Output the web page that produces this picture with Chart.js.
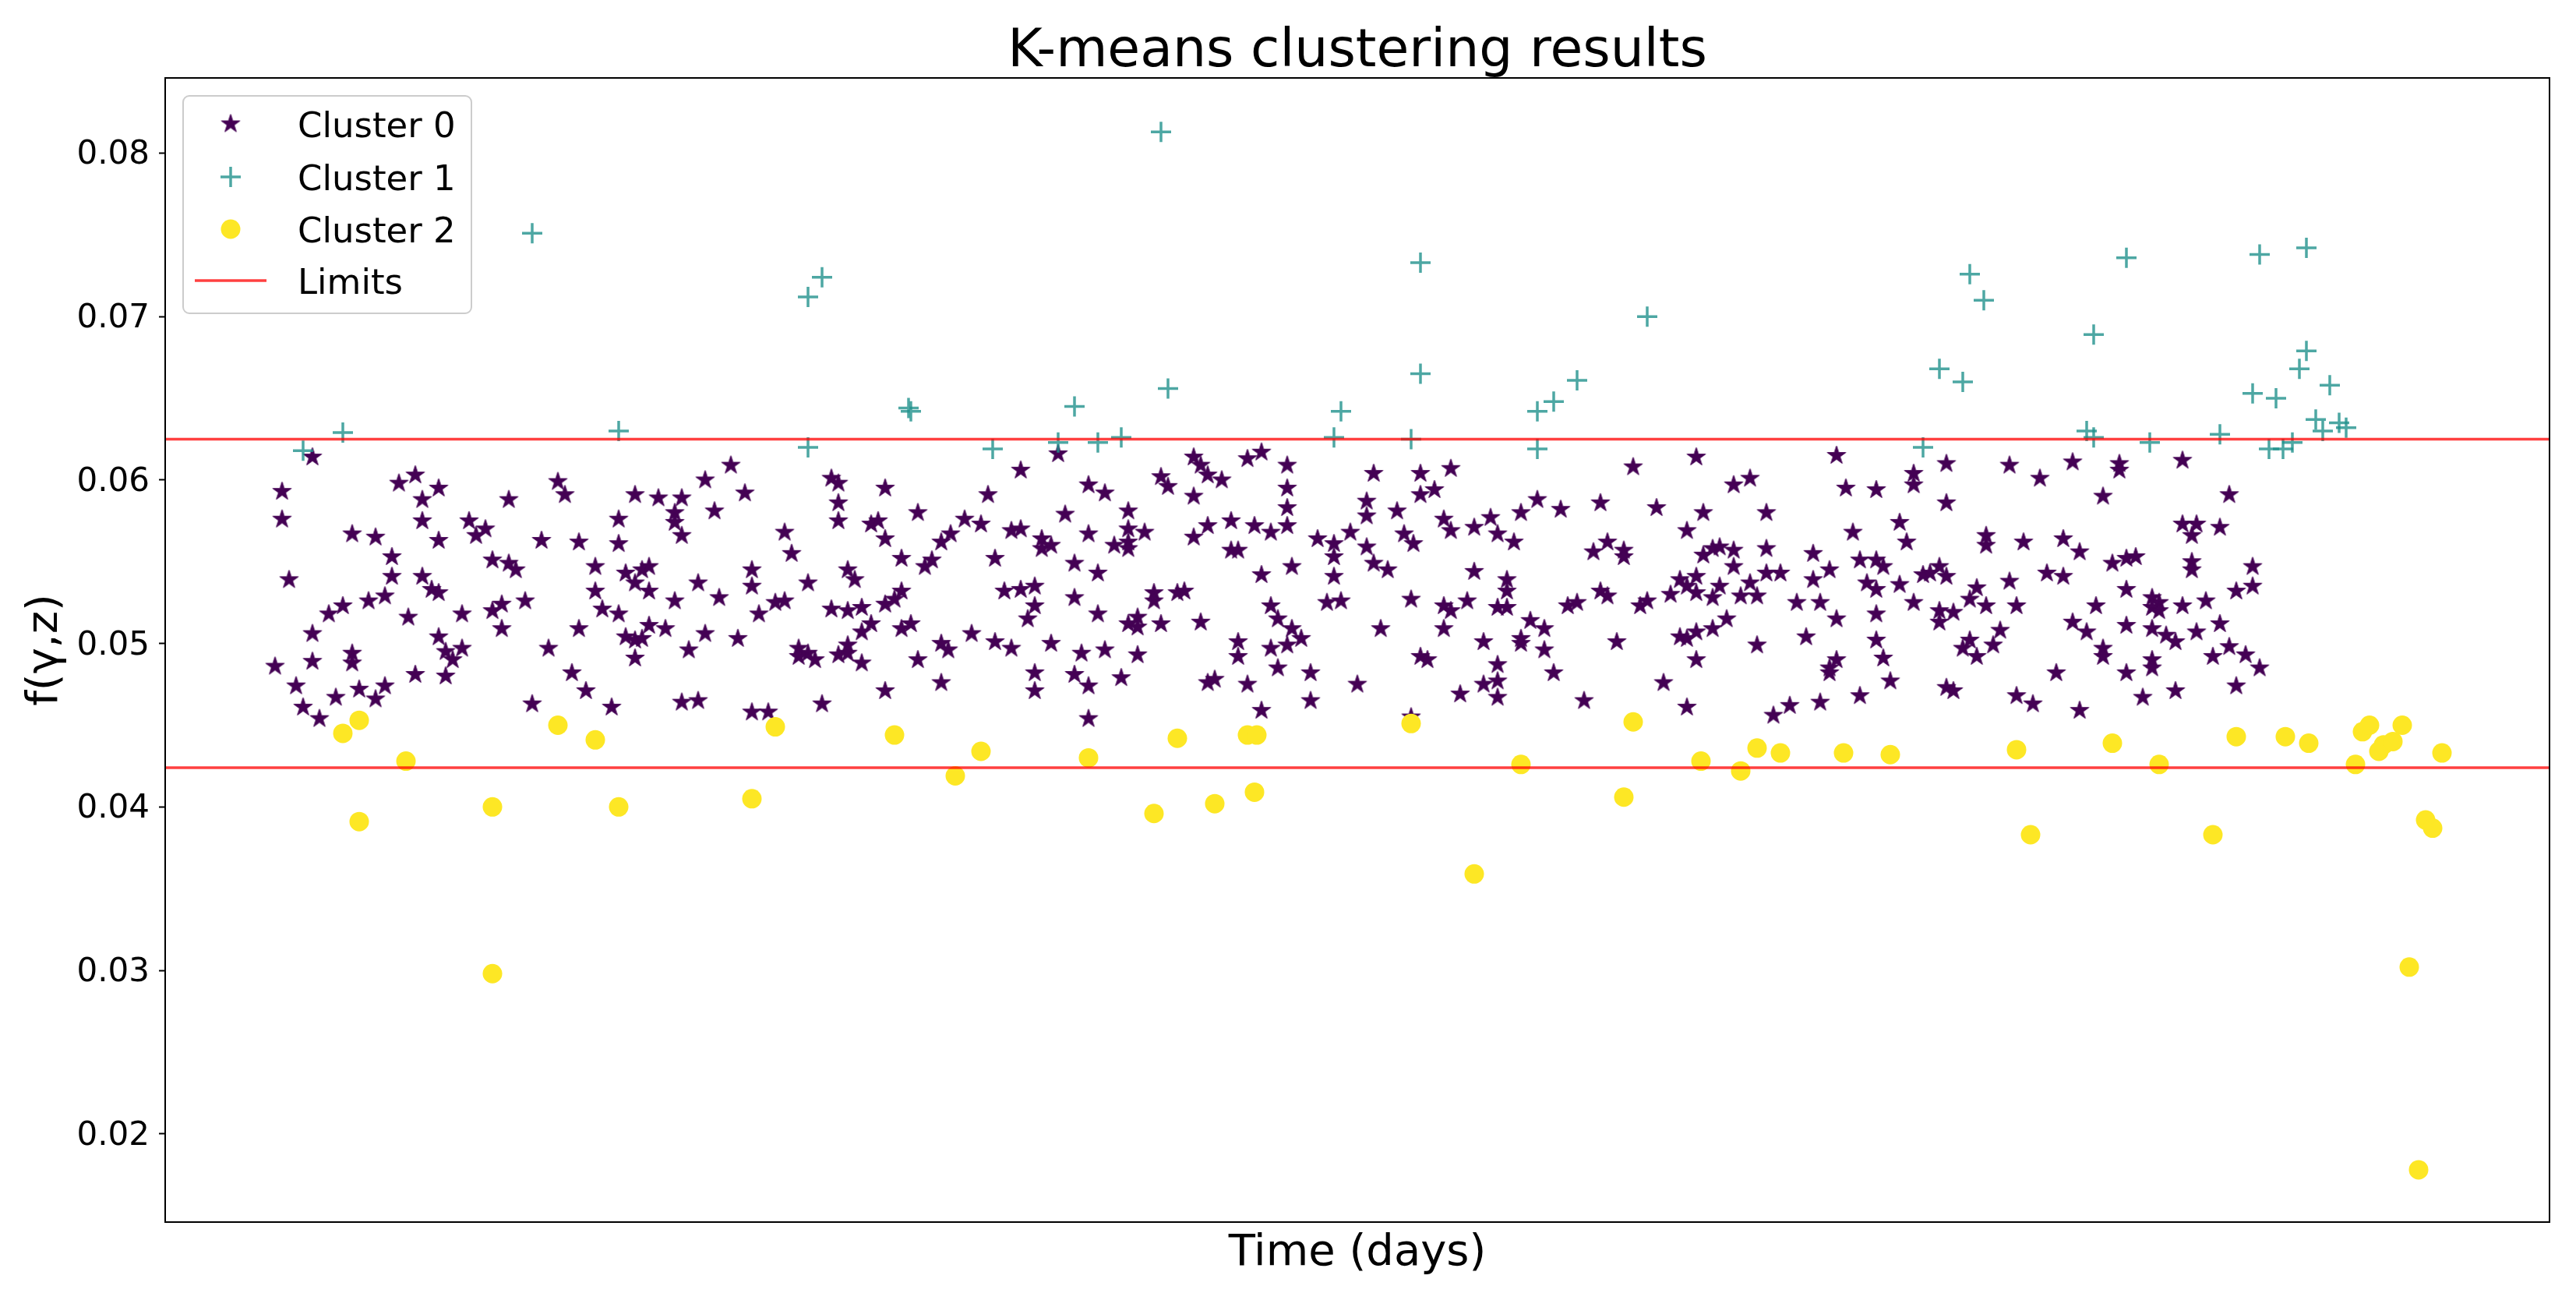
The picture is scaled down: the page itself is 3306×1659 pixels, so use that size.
<!DOCTYPE html>
<html>
<head>
<meta charset="utf-8">
<title>K-means clustering results</title>
<script src="https://cdn.jsdelivr.net/npm/chart.js@4.4.0/dist/chart.umd.min.js"></script>
<style>
    html, body { margin: 0; padding: 0; background: #ffffff; }
    canvas { display: block; }
</style>
</head>
<body>
<canvas id="kmeansChart" width="3306" height="1659"></canvas>
<script>
// ===============================
// Data: [day, f(γ,z)] for every point, one list per cluster
// ===============================
var cluster0 = [
    [63,0.0614],[50,0.0593],[50,0.0576],[53,0.0539],[47,0.0486],[56,0.0474],[59,0.0461],[66,0.0454],[63,0.0506],[63,0.0489],
    [70,0.0518],[76,0.0523],[73,0.0467],[80,0.0567],[80,0.0494],[80,0.0488],[83,0.0472],[90,0.0565],[90,0.0466],[94,0.0474],
    [94,0.0529],[87,0.0526],[97,0.0553],[97,0.0541],[100,0.0598],[107,0.0603],[110,0.0588],[117,0.0595],[110,0.0575],[117,0.0563],
    [104,0.0516],[107,0.0481],[110,0.0541],[114,0.0533],[117,0.0531],[117,0.0504],[120,0.0495],[123,0.0490],[127,0.0497],[120,0.0480],
    [127,0.0518],[130,0.0575],[133,0.0566],[137,0.0570],[140,0.0551],[147,0.0549],[150,0.0545],[140,0.0520],[144,0.0524],[144,0.0509],
    [154,0.0526],[147,0.0588],[168,0.0599],[171,0.0591],[161,0.0563],[177,0.0562],[184,0.0547],[184,0.0532],[187,0.0521],[177,0.0509],
    [164,0.0497],[174,0.0482],[180,0.0471],[157,0.0463],
    [194,0.0518],[191,0.0461],[194,0.0576],[194,0.0561],[201,0.0591],[211,0.0589],[221,0.0589],[218,0.0580],[218,0.0574],[221,0.0566],
    [231,0.0600],[242,0.0609],[248,0.0592],[235,0.0581],[197,0.0543],[204,0.0545],[207,0.0547],[201,0.0537],[207,0.0532],[218,0.0526],
    [228,0.0537],[237,0.0528],[207,0.0511],[214,0.0509],[197,0.0504],[201,0.0502],[204,0.0503],[201,0.0491],[224,0.0496],[231,0.0506],
    [245,0.0503],[221,0.0464],[228,0.0465],[251,0.0458],[258,0.0458],[251,0.0545],[251,0.0535],[254,0.0518],[261,0.0525],[265,0.0526],
    [265,0.0568],[268,0.0555],[275,0.0537],[285,0.0601],[288,0.0598],[288,0.0586],[288,0.0575],[308,0.0595],[322,0.0580],[302,0.0573],
    [305,0.0575],[308,0.0564],[315,0.0552],[325,0.0547],[328,0.0551],[332,0.0562],[336,0.0567],[292,0.0545],[295,0.0539],[285,0.0521],
    [292,0.0520],[298,0.0522],[308,0.0524],[312,0.0527],[315,0.0532],[302,0.0512],[298,0.0507],[315,0.0509],[319,0.0512],[271,0.0497],
    [275,0.0494],[271,0.0492],[278,0.0490],[288,0.0493],[292,0.0499],[292,0.0494],[298,0.0488],[322,0.0490],[332,0.0500],[335,0.0496],
    [332,0.0476],[308,0.0471],[281,0.0463],
    [382,0.0616],[366,0.0606],[352,0.0591],[342,0.0576],[349,0.0573],[362,0.0569],[366,0.0570],[375,0.0564],[375,0.0558],[379,0.0560],
    [385,0.0579],[395,0.0597],[402,0.0592],[395,0.0567],[412,0.0581],[412,0.0570],[419,0.0568],[406,0.0560],[412,0.0562],[412,0.0558],
    [426,0.0602],[429,0.0596],[440,0.0614],[443,0.0609],[446,0.0603],[452,0.0600],[440,0.0590],[463,0.0613],[469,0.0617],[480,0.0609],
    [480,0.0595],[480,0.0583],[480,0.0572],[446,0.0572],[440,0.0565],[456,0.0575],[466,0.0572],[473,0.0568],[456,0.0557],[459,0.0557],
    [469,0.0542],[482,0.0547],[355,0.0552],[389,0.0549],[399,0.0543],[359,0.0532],[366,0.0533],[372,0.0535],[372,0.0523],[369,0.0515],
    [389,0.0528],[399,0.0518],[412,0.0512],[416,0.0516],[416,0.0510],[426,0.0512],[423,0.0531],[423,0.0526],[433,0.0531],[436,0.0532],
    [443,0.0513],[345,0.0506],[355,0.0501],[362,0.0497],[379,0.0500],[392,0.0494],[402,0.0496],[416,0.0493],[372,0.0482],[372,0.0471],
    [389,0.0481],[395,0.0474],[409,0.0479],[446,0.0476],[449,0.0478],[459,0.0501],[459,0.0492],[463,0.0475],[469,0.0459],[473,0.0523],
    [476,0.0515],[482,0.0509],[473,0.0497],[480,0.0499],[476,0.0485],[395,0.0454],
    [517,0.0604],[537,0.0604],[550,0.0607],[537,0.0591],[543,0.0594],[514,0.0587],[514,0.0578],[527,0.0581],[493,0.0564],[500,0.0561],
    [500,0.0553],[507,0.0568],[514,0.0559],[517,0.0549],[523,0.0545],[500,0.0541],[530,0.0567],[534,0.0561],[547,0.0576],[550,0.0569],
    [560,0.0571],[567,0.0577],[570,0.0567],[577,0.0562],[580,0.0580],[587,0.0588],[597,0.0582],[614,0.0586],[628,0.0608],[560,0.0544],
    [574,0.0539],[574,0.0532],[570,0.0522],[574,0.0522],[497,0.0525],[503,0.0526],[533,0.0527],[547,0.0523],[550,0.0520],[557,0.0526],
    [520,0.0509],[547,0.0509],[564,0.0501],[584,0.0514],[580,0.0503],[580,0.0500],[590,0.0509],[590,0.0496],[611,0.0556],[617,0.0562],
    [624,0.0557],[624,0.0553],[600,0.0523],[604,0.0525],[614,0.0532],[617,0.0529],[621,0.0501],[486,0.0503],[490,0.0482],[490,0.0465],
    [510,0.0475],[537,0.0492],[540,0.0490],[554,0.0469],[564,0.0475],[570,0.0487],[570,0.0477],[570,0.0467],[594,0.0482],[607,0.0465],
    [533,0.0455],
    [655,0.0614],[715,0.0615],[671,0.0597],[678,0.0601],[638,0.0583],[658,0.0580],[685,0.0580],[651,0.0569],[658,0.0554],[662,0.0558],
    [665,0.0559],[671,0.0557],[671,0.0547],[685,0.0558],[685,0.0543],[691,0.0543],[678,0.0537],[648,0.0539],[655,0.0541],[651,0.0535],
    [644,0.0530],[655,0.0531],[665,0.0535],[662,0.0528],[674,0.0529],[681,0.0529],[631,0.0523],[634,0.0526],[648,0.0504],[651,0.0503],
    [655,0.0507],[662,0.0509],[668,0.0515],[655,0.0490],[681,0.0499],[641,0.0476],[651,0.0461],[688,0.0456],[695,0.0462],[708,0.0464],
    [698,0.0525],[708,0.0525],[705,0.0555],[705,0.0539],[712,0.0545],[715,0.0515],[702,0.0504],[712,0.0485],[715,0.0490],[712,0.0482],
    [725,0.0468],[719,0.0595],[732,0.0594],[722,0.0568],[725,0.0551],[732,0.0551],[735,0.0547],[728,0.0537],[732,0.0533],[732,0.0518],
    [732,0.0502],[735,0.0491],[738,0.0477],[742,0.0574],[745,0.0562],[748,0.0604],[748,0.0597],[762,0.0610],[762,0.0586],[742,0.0536],
    [748,0.0525],[752,0.0542],[755,0.0543],[759,0.0547],[762,0.0541],[759,0.0520],[759,0.0513],[765,0.0519],[772,0.0527],[775,0.0534],
    [769,0.0497],[772,0.0502],[775,0.0492],[762,0.0473],[765,0.0471],
    [789,0.0609],[802,0.0601],[816,0.0611],[836,0.0610],[836,0.0606],[829,0.0590],[863,0.0612],[883,0.0591],[779,0.0566],[779,0.0560],
    [795,0.0562],[812,0.0564],[819,0.0556],[789,0.0538],[779,0.0523],[792,0.0523],[805,0.0543],[812,0.0541],[833,0.0549],[839,0.0552],
    [843,0.0553],[839,0.0533],[826,0.0523],[850,0.0528],[853,0.0525],[850,0.0522],[853,0.0520],[863,0.0523],[873,0.0526],[863,0.0573],
    [869,0.0573],[867,0.0566],[879,0.0571],[867,0.0550],[867,0.0545],[893,0.0547],[893,0.0535],[886,0.0532],[785,0.0508],[782,0.0499],
    [816,0.0513],[822,0.0507],[829,0.0497],[829,0.0492],[839,0.0511],[850,0.0509],[856,0.0505],[860,0.0501],[869,0.0507],[879,0.0512],
    [883,0.0498],[876,0.0492],[890,0.0493],[896,0.0485],[886,0.0474],[850,0.0490],[850,0.0485],[839,0.0482],[809,0.0482],[792,0.0468],
    [799,0.0463],[819,0.0459],[846,0.0467],[860,0.0471]
];

var cluster1 = [
    [59,0.0618],[76,0.0629],[157,0.0751],[194,0.0630],[275,0.0712],[281,0.0724],[275,0.0620],[318,0.0644],[319,0.0642],[354,0.0619],
    [382,0.0623],[389,0.0645],[399,0.0623],[409,0.0626],[426,0.0813],[429,0.0656],[500,0.0626],[503,0.0642],[533,0.0625],[537,0.0733],
    [537,0.0665],[587,0.0642],[587,0.0619],[594,0.0648],[604,0.0661],[634,0.0700],[752,0.0620],[759,0.0668],[769,0.0660],[772,0.0726],
    [778,0.0710],[822,0.0630],[825,0.0626],[825,0.0689],[839,0.0736],[849,0.0623],[879,0.0628],[893,0.0653],[896,0.0738],[900,0.0619],
    [903,0.0650],[906,0.0619],[910,0.0623],[913,0.0668],[916,0.0679],[916,0.0742],[920,0.0637],[923,0.0630],[926,0.0658],[930,0.0635],
    [933,0.0632]
];

var cluster2 = [
    [76,0.0445],[83,0.0453],[103,0.0428],[83,0.0391],[140,0.0400],[140,0.0298],[168,0.0450],[184,0.0441],[194,0.0400],[251,0.0405],
    [261,0.0449],[312,0.0444],[338,0.0419],[349,0.0434],[395,0.0430],[423,0.0396],[433,0.0442],[449,0.0402],[463,0.0444],[467,0.0444],
    [466,0.0409],[533,0.0451],[560,0.0359],[580,0.0426],[624,0.0406],[628,0.0452],[657,0.0428],[674,0.0422],[681,0.0436],[691,0.0433],
    [718,0.0433],[738,0.0432],[792,0.0435],[798,0.0383],[833,0.0439],[853,0.0426],[876,0.0383],[886,0.0443],[907,0.0443],[917,0.0439],
    [937,0.0426],[940,0.0446],[943,0.0450],[947,0.0434],[949,0.0438],[953,0.0440],[957,0.0450],[960,0.0302],[964,0.0178],[967,0.0392],
    [970,0.0387],[974,0.0433]
];

// Upper and lower control limits
var limitValues = [0.0625, 0.0424];

// Axis ranges and tick labels
var xRange = [0, 1020];
var yRange = [0.0146, 0.0846];
var yTickValues = [0.02, 0.03, 0.04, 0.05, 0.06, 0.07, 0.08];

var FONT = "'DejaVu Sans', 'Liberation Sans', sans-serif";
var viridis = { purple: "#440154", teal: "rgba(33,145,140,0.8)", yellow: "#fde725" };

// turn [day, value] pairs into chart points
function toPoints(pairs) {
    return pairs.map(function(p) { return { x: p[0], y: p[1] }; });
}

// ===============================
// Filled five point star (matplotlib "*" marker) as a point image
// ===============================
function makeStar(color, r) {
    var size = Math.ceil(r * 2 + 4);
    var c = document.createElement("canvas");
    c.width = size;
    c.height = size;
    var g = c.getContext("2d");
    var cx = size / 2, cy = size / 2;
    g.beginPath();
    for (var i = 0; i < 10; i++) {
        var ang = -Math.PI / 2 + i * Math.PI / 5;
        var rad = (i % 2 === 0) ? r : r * 0.382;
        var px = cx + Math.cos(ang) * rad;
        var py = cy + Math.sin(ang) * rad;
        if (i === 0) g.moveTo(px, py); else g.lineTo(px, py);
    }
    g.closePath();
    g.fillStyle = color;
    g.fill();
    g.lineWidth = 1;
    g.strokeStyle = color;
    g.stroke();
    return c;
}
var starImage = makeStar(viridis.purple, 12.5);

// ===============================
// Plot frame (all four spines)
// ===============================
var framePlugin = {
    id: "frame",
    afterDatasetsDraw: function(chart) {
        var a = chart.chartArea;
        var c = chart.ctx;
        c.save();
        c.strokeStyle = "#000000";
        c.lineWidth = 2;
        c.strokeRect(a.left, a.top, a.right - a.left, a.bottom - a.top);
        c.restore();
    }
};

// ===============================
// Legend box in the upper left corner of the plot
// ===============================
var boxLegendPlugin = {
    id: "boxLegend",
    afterDraw: function(chart) {
        var c = chart.ctx;
        var x = 235, y = 123, w = 370, h = 279, r = 8;
        c.save();
        c.beginPath();
        c.moveTo(x + r, y);
        c.arcTo(x + w, y, x + w, y + h, r);
        c.arcTo(x + w, y + h, x, y + h, r);
        c.arcTo(x, y + h, x, y, r);
        c.arcTo(x, y, x + w, y, r);
        c.closePath();
        c.fillStyle = "rgba(255,255,255,0.8)";
        c.fill();
        c.strokeStyle = "#cccccc";
        c.lineWidth = 2;
        c.stroke();

        var labels = chart.data.datasets.slice(0, 4).map(function(d) { return d.label; });
        var rows = [159, 227, 294, 360];
        var mx = 296;
        // Cluster 0: star
        c.drawImage(starImage, mx - starImage.width / 2, rows[0] - starImage.height / 2);
        // Cluster 1: plus
        c.strokeStyle = viridis.teal;
        c.lineWidth = 3.5;
        c.beginPath();
        c.moveTo(mx - 13, rows[1]); c.lineTo(mx + 13, rows[1]);
        c.moveTo(mx, rows[1] - 13); c.lineTo(mx, rows[1] + 13);
        c.stroke();
        // Cluster 2: circle
        c.fillStyle = viridis.yellow;
        c.beginPath();
        c.arc(mx, rows[2], 12.5, 0, Math.PI * 2);
        c.fill();
        // Limits: red line
        c.strokeStyle = "rgba(255,0,0,0.75)";
        c.lineWidth = 3.5;
        c.beginPath();
        c.moveTo(250, rows[3]); c.lineTo(342, rows[3]);
        c.stroke();

        // labels sit a little low so the glyphs line up with the markers
        c.fillStyle = "#000000";
        c.font = "45px " + FONT;
        c.textAlign = "left";
        c.textBaseline = "middle";
        for (var i = 0; i < labels.length; i++) {
            c.fillText(labels[i], 382, rows[i] + 5);
        }
        c.restore();
    }
};

// ===============================
// Build the chart
// ===============================
var ctx = document.getElementById("kmeansChart").getContext("2d");

var kmeansChart = new Chart(ctx, {
    type: "scatter",
    data: {
        datasets: [
            {
                label: "Cluster 0",
                data: toPoints(cluster0),
                pointStyle: starImage,
                pointRadius: 12,
                pointBackgroundColor: viridis.purple,
                pointBorderColor: viridis.purple,
                order: 3
            },
            {
                label: "Cluster 1",
                data: toPoints(cluster1),
                pointStyle: "cross",
                pointRadius: 13,
                pointBorderWidth: 3.5,
                pointBorderColor: viridis.teal,
                pointBackgroundColor: viridis.teal,
                order: 2
            },
            {
                label: "Cluster 2",
                data: toPoints(cluster2),
                pointStyle: "circle",
                pointRadius: 12.5,
                pointBorderWidth: 0,
                pointBackgroundColor: viridis.yellow,
                pointBorderColor: viridis.yellow,
                order: 1
            },
            {
                type: "line",
                label: "Limits",
                data: [{ x: xRange[0], y: limitValues[0] }, { x: xRange[1], y: limitValues[0] }],
                showLine: true,
                borderColor: "rgba(255,0,0,0.75)",
                borderWidth: 3.5,
                pointRadius: 0,
                order: 0
            },
            {
                type: "line",
                label: "Limits",
                data: [{ x: xRange[0], y: limitValues[1] }, { x: xRange[1], y: limitValues[1] }],
                showLine: true,
                borderColor: "rgba(255,0,0,0.75)",
                borderWidth: 3.5,
                pointRadius: 0,
                order: 0
            }
        ]
    },
    options: {
        responsive: false,
        animation: false,
        events: [],
        layout: { padding: { left: 10, right: 34, top: 0, bottom: 0 } },
        plugins: {
            legend: { display: false },
            tooltip: { enabled: false },
            title: {
                display: true,
                text: "K-means clustering results",
                color: "#000000",
                fullSize: false,
                font: { family: FONT, size: 68, weight: "normal", lineHeight: 0.95 },
                padding: { top: 34.7, bottom: 0.7 }
            }
        },
        scales: {
            x: {
                type: "linear",
                min: xRange[0],
                max: xRange[1],
                ticks: { display: false },
                grid: { display: false },
                border: { display: false },
                title: {
                    display: true,
                    text: "Time (days)",
                    color: "#000000",
                    font: { family: FONT, size: 56 },
                    padding: { top: 0, bottom: 17 }
                },
                afterFit: function(scale) { scale.height = 91; }
            },
            y: {
                type: "linear",
                min: yRange[0],
                max: yRange[1],
                afterBuildTicks: function(scale) {
                    scale.ticks = yTickValues.map(function(v) { return { value: v }; });
                },
                ticks: {
                    color: "#000000",
                    font: { family: FONT, size: 42 },
                    padding: 12,
                    labelOffset: 3,
                    callback: function(value) { return Number(value).toFixed(2); }
                },
                grid: {
                    drawOnChartArea: false,
                    drawTicks: true,
                    tickLength: 8,
                    tickWidth: 2,
                    tickColor: "#000000"
                },
                border: { display: false },
                title: {
                    display: true,
                    text: "f(γ,z)",
                    color: "#000000",
                    font: { family: FONT, size: 56 },
                    padding: { top: 15, bottom: 0 }
                },
                afterFit: function(scale) { scale.width = 202; }
            }
        }
    },
    plugins: [framePlugin, boxLegendPlugin]
});
</script>
</body>
</html>
